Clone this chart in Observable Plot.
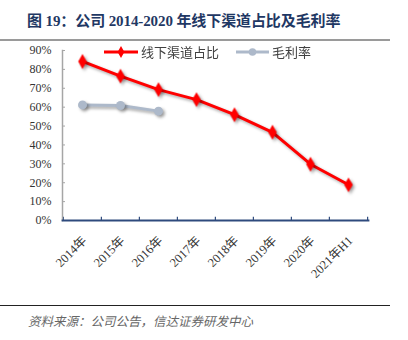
<!DOCTYPE html>
<html>
<head>
<meta charset="utf-8">
<script src="https://cdn.jsdelivr.net/npm/d3@7"></script>
<script src="https://cdn.jsdelivr.net/npm/@observablehq/plot@0.6"></script>
<style>
  body { margin: 0; background: #fff; width: 408px; height: 340px; position: relative; overflow: hidden; }
  #title { position: absolute; left: 27px; top: 9px; font-family: "Liberation Serif", "Noto Sans CJK SC", serif; font-weight: bold; font-size: 15px; color: #1F3864; white-space: nowrap; letter-spacing: -0.1px; }
  #tline { position: absolute; left: 0; top: 39px; width: 390px; height: 0; border-top: 2px solid #9a9a9a; }
  #chart { position: absolute; left: 0; top: 40px; }
  #legend { position: absolute; top: 42px; left: 103px; font-family: "Noto Sans CJK SC", sans-serif; font-size: 13px; color: #404040; display: flex; align-items: center; white-space: nowrap; }
  #legend .item { display: flex; align-items: center; }
  #fline { position: absolute; left: 0; top: 305px; width: 390px; border-top: 1px solid #222; }
  #source { position: absolute; left: 28px; top: 311px; font-family: "Noto Sans CJK SC", sans-serif; font-style: italic; font-size: 12.5px; color: #666; white-space: nowrap; }
</style>
</head>
<body>
<div id="title">图 19：公司 2014-2020 年线下渠道占比及毛利率</div>
<div id="tline"></div>
<div id="chart"></div>
<div id="legend"></div>
<div id="fline"></div>
<div id="source">资料来源：公司公告，信达证券研发中心</div>
<script>
const categories = ["2014年", "2015年", "2016年", "2017年", "2018年", "2019年", "2020年", "2021年H1"];
const offlineShare = [0.842, 0.764, 0.693, 0.640, 0.560, 0.467, 0.298, 0.189];
const grossMargin = [0.612, 0.609, 0.579, null, null, null, null, null];
const yTicks = [0, 0.1, 0.2, 0.3, 0.4, 0.5, 0.6, 0.7, 0.8, 0.9];
const seriesNames = ["线下渠道占比", "毛利率"];
const colors = ["#FF0000", "#ADB9CA"];

const redData = categories.map((c, i) => ({cat: c, v: offlineShare[i]}));
const grayData = categories.map((c, i) => ({cat: c, v: grossMargin[i]})).filter(d => d.v != null);

const W = 408, H = 262, mL = 62, mR = 40, mT = 10, mB = 82;
const step = (W - mL - mR) / categories.length;

const serif = "'Liberation Serif', 'Noto Sans CJK SC', serif";

const plot = Plot.plot({
  width: W, height: H,
  marginLeft: mL, marginRight: mR, marginTop: mT, marginBottom: mB,
  style: {fontFamily: serif, fontSize: "12px", color: "#333", background: "transparent"},
  x: {type: "point", domain: categories, padding: 0.5, label: null},
  y: {domain: [0, 0.9], label: null},
  marks: [
    Plot.axisY({ticks: yTicks, tickSize: 0, tickPadding: 11, tickFormat: d3.format(".0%"), fontSize: 12, fill: "#333"}),
    Plot.axisY({ticks: yTicks, tickSize: 3, dx: 3, tickFormat: () => "", stroke: "#A6A6A6"}),
    Plot.axisX({tickSize: 0, tickPadding: 12, tickRotate: -45, fontSize: 12.5, fill: "#333", dx: 2, dy: 6}),
    Plot.ruleX(categories, {x: d => d, dx: -step / 2, y1: 0, y2: 0.017, stroke: "#2E4A7D", strokeWidth: 1.2}),
    Plot.ruleX([categories[categories.length - 1]], {x: d => d, dx: step / 2, y1: 0, y2: 0.017, stroke: "#2E4A7D", strokeWidth: 1.2}),
    Plot.frame({anchor: "left", stroke: "#A6A6A6", strokeWidth: 1.5}),
    Plot.frame({anchor: "bottom", stroke: "#2E4A7D", strokeWidth: 1.8}),
    Plot.line(grayData, {x: "cat", y: "v", stroke: colors[1], strokeWidth: 3}),
    Plot.dot(grayData, {x: "cat", y: "v", fill: colors[1], r: 4.5, symbol: "circle"}),
    Plot.line(redData, {x: "cat", y: "v", stroke: colors[0], strokeWidth: 3}),
    Plot.dot(redData, {x: "cat", y: "v", fill: colors[0], r: 4.5, symbol: "diamond"})
  ]
});
document.getElementById("chart").appendChild(plot);
d3.select(plot).selectAll("g[aria-label='line'], g[aria-label='dot']")
  .style("filter", "drop-shadow(2px 2px 1.5px rgba(0,0,0,0.35))");

// legend
const legend = d3.select("#legend");
const items = [
  {name: seriesNames[0], color: colors[0], sym: "diamond", w: 34},
  {name: seriesNames[1], color: colors[1], sym: "circle", w: 33}
];
items.forEach((it, i) => {
  const div = legend.append("div").attr("class", "item").style("margin-right", i === 0 ? "16px" : "0");
  const s = div.append("svg").attr("width", it.w + 2).attr("height", 14);
  s.append("line").attr("x1", 1).attr("x2", it.w + 1).attr("y1", 7).attr("y2", 7).attr("stroke", it.color).attr("stroke-width", 3);
  s.append("path").attr("transform", `translate(${it.w / 2 + 1},7)`)
    .attr("d", d3.symbol(it.sym === "diamond" ? d3.symbolDiamond : d3.symbolCircle, it.sym === "diamond" ? 40 : 45)())
    .attr("fill", it.color);
  div.append("span").style("margin-left", "2px").text(it.name);
});
</script>
</body>
</html>
